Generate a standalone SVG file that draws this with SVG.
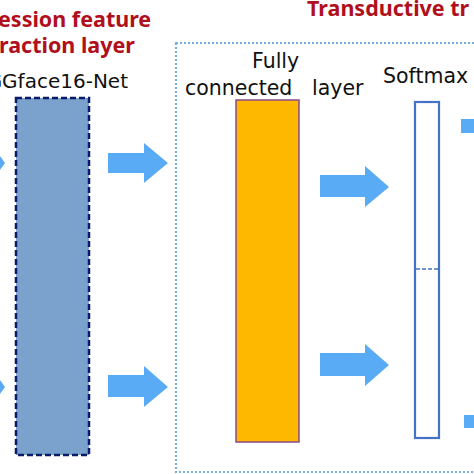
<svg xmlns="http://www.w3.org/2000/svg" width="474" height="474" viewBox="0 0 474 474">
<style>
.title{font-family:"Noto Sans","Open Sans",sans-serif;font-weight:bold;font-size:21.5px;fill:#B0101C}
.lbl{font-family:"DejaVu Sans","Noto Sans",sans-serif;font-size:20.5px;fill:#111}
.arrow{fill:#5AABF5}
</style>
<rect width="474" height="474" fill="#fff"/>
<text class="title" x="-2" y="27">ession feature</text>
<text class="title" x="-1" y="53">raction layer</text>
<text class="title" x="307" y="16">Transductive tr</text>
<rect x="176" y="43" width="310" height="429" fill="none" stroke="#7AAEDC" stroke-width="2.2" stroke-dasharray="2 2"/>
<g id="vgg">
<text class="lbl" x="128" y="88" text-anchor="end" style="font-size:20px">GGface16-Net</text>
<rect x="16" y="98" width="73" height="357" fill="#7BA2CD" stroke="#0A1A6A" stroke-width="2.5" stroke-dasharray="6 3"/>
</g>
<g id="fc">
<text class="lbl" x="252" y="68">Fully</text>
<text class="lbl" x="185" y="95">connected</text>
<text class="lbl" x="312" y="95">layer</text>
<rect x="236" y="100" width="63" height="342" fill="#FFB800" stroke="#8A4A8A" stroke-width="1.5"/>
</g>
<g id="softmax">
<text class="lbl" x="383" y="83">Softmax</text>
<rect x="415" y="102" width="24" height="336" fill="#fff" stroke="#4472C4" stroke-width="2.2"/>
<line x1="416" y1="269" x2="438" y2="269" stroke="#4472C4" stroke-width="1.5" stroke-dasharray="4 2"/>
</g>
<g id="connectors">
<polygon class="arrow" points="-8,160 0,160 0,156 5,163 0,170 0,166 -8,166"/>
<polygon class="arrow" points="-8,384 0,384 0,380 5,387 0,394 0,390 -8,390"/>
<polygon class="arrow" points="108,153 144,153 144,143 168,163 144,183 144,173 108,173"/>
<polygon class="arrow" points="108,375 144,375 144,366 168,387 144,407 144,397 108,397"/>
<polygon class="arrow" points="320,175 365,175 365,166 389,187 365,207 365,197 320,197"/>
<polygon class="arrow" points="320,353 365,353 365,344 389,365 365,386 365,376 320,376"/>
<rect class="arrow" x="461" y="119" width="20" height="14"/>
<rect class="arrow" x="464" y="415" width="20" height="13"/>
</g>
</svg>
